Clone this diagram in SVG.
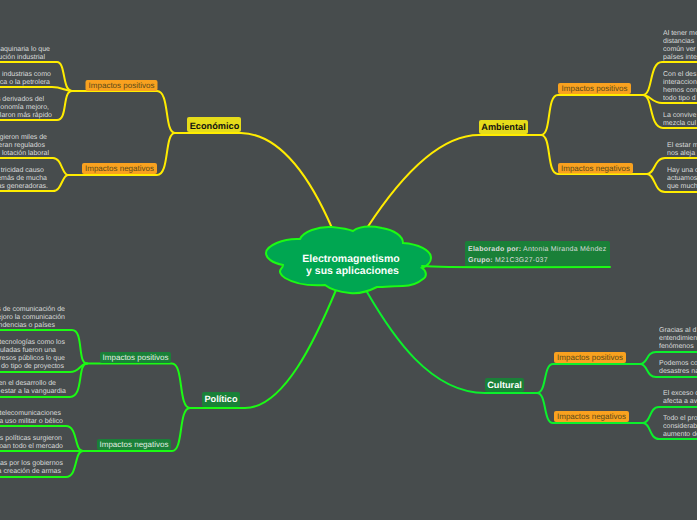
<svg xmlns="http://www.w3.org/2000/svg" width="697" height="520" viewBox="0 0 697 520">
<style>
text{font-family:"Liberation Sans",Arial,sans-serif;text-rendering:geometricPrecision;opacity:.99}
.bg{fill:#474c4d}
.c{fill:none;stroke-width:2;stroke-linecap:round;stroke-linejoin:round}
.y{stroke:#ffec00}
.g{stroke:#1cfa14}
.gc{stroke:#0cf02c}
.t{font-size:7px;fill:#dcdede}
.i{letter-spacing:.25px}
.e{text-anchor:end}
.s{font-size:8px;text-anchor:middle}
.o{fill:#f9a11f}
.d{fill:#1a8038}
.ot{fill:#5a4a1a}
.dt{fill:#e4efe6}
.m{font-size:9.200px;font-weight:bold;text-anchor:middle}
</style>
<rect class="bg" width="697" height="520"/>
<g id="connectors">
<path class="c y" d="M332,228C312,182 282,134 241,133L187,133L175,133"/>
<path class="c y" d="M175,133C164,133 170,91 157,91L72,91"/>
<path class="c y" d="M175,133C164,133 170,175 157,175L68,175"/>
<path class="c y" d="M72,91C62,91 66,62 57,62L0,62"/>
<path class="c y" d="M72,91C65,91 62,87 52,87L0,87"/>
<path class="c y" d="M72,91C62,91 68,120 57,120L0,120"/>
<path class="c y" d="M68,175C62,175 62,158 53,158L0,158"/>
<path class="c y" d="M68,175C62,175 62,191 53,191L0,191"/>
<path class="c g" d="M336,290C316,338 284,408 245,408L190,408"/>
<path class="c g" d="M190,408C178,408 184,363.500 172,363.500L87,363.500"/>
<path class="c g" d="M190,408C178,408 184,451 172,451L83,451"/>
<path class="c g" d="M87,363.500C77,363.500 84,330 72,330L0,330"/>
<path class="c g" d="M87,363.500C80,363.500 80,372 70,372L0,372"/>
<path class="c g" d="M87,363.500C77,363.500 84,397 70,397L0,397"/>
<path class="c g" d="M83,451C74,451 78,426 66,426L0,426"/>
<path class="c g" d="M83,451L0,451"/>
<path class="c g" d="M83,451C74,451 78,477 66,477L0,477"/>
<path class="c y" d="M367,228C395,185 435,135 479,135L541,135"/>
<path class="c y" d="M541,135C552,135 546,95 558,95L643,95"/>
<path class="c y" d="M541,135C552,135 546,174 558,174L647,174"/>
<path class="c y" d="M643,95C653,95 649,62 662,62L697,62"/>
<path class="c y" d="M643,95C650,95 652,103 662,103L697,103"/>
<path class="c y" d="M643,95C653,95 649,128 663,128L697,128"/>
<path class="c y" d="M647,174C655,174 654,158 665,158L697,158"/>
<path class="c y" d="M647,174C655,174 654,192 665,192L697,192"/>
<path class="c gc" d="M367,292C392,335 430,393 485,393L537,393"/>
<path class="c gc" d="M537,393C547,393 543,364 553,364L640,364"/>
<path class="c gc" d="M537,393C547,393 543,423 553,423L643,423"/>
<path class="c gc" d="M640,364C648,364 646,352 656,352L697,352"/>
<path class="c gc" d="M640,364C648,364 646,377 656,377L697,377"/>
<path class="c gc" d="M643,423C651,423 649,407 659,407L697,407"/>
<path class="c gc" d="M643,423C651,423 649,439 659,439L697,439"/>
</g>
<g id="central">
<path d="M300,239C303,232 318,226 332,227C341,228 348,229 353,231C360,226 372,226 382,228C394,230 403,236 403,243C418,244 431,250 431,258C431,262 427,266 422,268C427,271 427,277 423,279C417,284 410,286 403,286C395,286 385,287 377,287C369,291 358,294 350,293C340,292 330,289 325,285C310,286 295,284 285,278C280,275 279,271 281,269C283,267 283,265 283,265C272,263 266,258 266,253C266,246 283,238 300,239Z" fill="#00a651" stroke="#1cfa14" stroke-width="2"/>
<text x="351" y="262" fill="#fff" style="font-size:10.500px;font-weight:bold;text-anchor:middle">Electromagnetismo</text>
<text x="352.500" y="274" fill="#fff" style="font-size:10.500px;font-weight:bold;text-anchor:middle">y sus aplicaciones</text>
</g>
<g id="info">
<rect x="465" y="241" width="145" height="26" rx="2" fill="#1a8038"/>
<text x="468" y="251" class="t i"><tspan font-weight="bold">Elaborado por:</tspan> Antonia Miranda Méndez</text>
<text x="468" y="262" class="t i"><tspan font-weight="bold">Grupo:</tspan> M21C3G27-037</text>
<path class="c g" d="M422,266C450,268 480,267 610,267"/>
</g>
<g id="economico">
<rect x="187" y="117" width="54" height="15" rx="2" fill="#e6dc1a"/>
<text x="214.500" y="128.500" class="m" fill="#111">Económico</text>
</g>
<g id="eco-pos">
<rect x="85.500" y="80" width="72" height="11" rx="2" class="o"/>
<text x="121.500" y="88" class="s ot">Impactos positivos</text>
<text x="50" y="50.500" class="t e">aquinaria lo que</text><text x="45" y="59" class="t e">ución industrial</text><text x="51" y="75.500" class="t e">industrias como</text><text x="50" y="84" class="t e">ca o la petrolera</text><text x="44" y="100.500" class="t e">s derivados del</text><text x="49" y="109" class="t e">onomía mejoro,</text><text x="52" y="117" class="t e">laron más rápido</text>
</g>
<g id="eco-neg">
<rect x="82" y="163" width="75" height="11" rx="2" class="o"/>
<text x="119.500" y="171" class="s ot">Impactos negativos</text>
<text x="47" y="139" class="t e">gieron miles de</text><text x="45" y="147" class="t e">eran regulados</text><text x="49" y="155" class="t e">lotación laboral</text><text x="44" y="171.500" class="t e">tricidad causo</text><text x="47" y="179.500" class="t e">emás de mucha</text><text x="48" y="188" class="t e">as generadoras.</text>
</g>
<g id="politico">
<rect x="202" y="392" width="38" height="15" rx="2" class="d"/>
<text x="221" y="402" class="m" fill="#fff">Político</text>
</g>
<g id="pol-pos">
<rect x="100" y="352" width="71" height="11" rx="2" class="d"/>
<text x="135.500" y="360" class="s dt">Impactos positivos</text>
<text x="65" y="310.500" class="t e">s de comunicación de</text><text x="65" y="319" class="t e">ejoro la comunicación</text><text x="55" y="327" class="t e">ndencias o países</text><text x="65" y="344" class="t e">tecnologías como los</text><text x="56" y="352" class="t e">uladas fueron una</text><text x="65" y="360" class="t e">resos públicos lo que</text><text x="64" y="368" class="t e">do tipo de proyectos</text><text x="56" y="384.500" class="t e">en el desarrollo de</text><text x="66" y="392.500" class="t e">estar a la vanguardia</text>
</g>
<g id="pol-neg">
<rect x="97" y="439" width="74" height="11" rx="2" class="d"/>
<text x="134" y="447" class="s dt">Impactos negativos</text>
<text x="61" y="415" class="t e">telecomunicaciones</text><text x="63" y="423" class="t e">a uso militar o bélico</text><text x="62" y="440" class="t e">s políticas surgieron</text><text x="63" y="448" class="t e">oan todo el mercado</text><text x="63" y="465" class="t e">as por los gobiernos</text><text x="61" y="473" class="t e">a creación de armas</text>
</g>
<g id="ambiental">
<rect x="479" y="120" width="49" height="14" rx="2" fill="#e6dc1a"/>
<text x="503.500" y="130" class="m" fill="#111">Ambiental</text>
</g>
<g id="amb-pos">
<rect x="558" y="83" width="73" height="11" rx="2" class="o"/>
<text x="594.500" y="91" class="s ot">Impactos positivos</text>
<text x="663" y="35" class="t">Al tener me</text><text x="663" y="43" class="t">distancias</text><text x="663" y="51" class="t">común ver</text><text x="663" y="59" class="t">países inte</text><text x="663" y="76" class="t">Con el des</text><text x="663" y="84" class="t">interaccion</text><text x="663" y="92" class="t">hemos con</text><text x="663" y="100" class="t">todo tipo d</text><text x="663" y="117" class="t">La convive</text><text x="663" y="125" class="t">mezcla cul</text>
</g>
<g id="amb-neg">
<rect x="558" y="163" width="75" height="10.500" rx="2" class="o"/>
<text x="595.500" y="171" class="s ot">Impactos negativos</text>
<text x="667" y="147" class="t">El estar m</text><text x="667" y="155" class="t">nos aleja</text><text x="667" y="172" class="t">Hay una c</text><text x="667" y="180" class="t">actuamos</text><text x="667" y="188" class="t">que much</text>
</g>
<g id="cultural">
<rect x="485" y="378" width="39" height="14" rx="2" class="d"/>
<text x="504.500" y="388" class="m" fill="#fff">Cultural</text>
</g>
<g id="cul-pos">
<rect x="554" y="352" width="72" height="11" rx="2" class="o"/>
<text x="590" y="360" class="s ot">Impactos positivos</text>
<text x="659" y="332" class="t">Gracias al d</text><text x="659" y="340" class="t">entendimien</text><text x="659" y="348" class="t">fenómenos</text><text x="659" y="365" class="t">Podemos co</text><text x="659" y="373" class="t">desastres na</text>
</g>
<g id="cul-neg">
<rect x="554" y="411" width="75" height="11" rx="2" class="o"/>
<text x="591.500" y="419" class="s ot">Impactos negativos</text>
<text x="663" y="395" class="t">El exceso d</text><text x="663" y="403" class="t">afecta a av</text><text x="663" y="420" class="t">Todo el pro</text><text x="663" y="428" class="t">considerab</text><text x="663" y="436" class="t">aumento de</text>
</g>
</svg>
